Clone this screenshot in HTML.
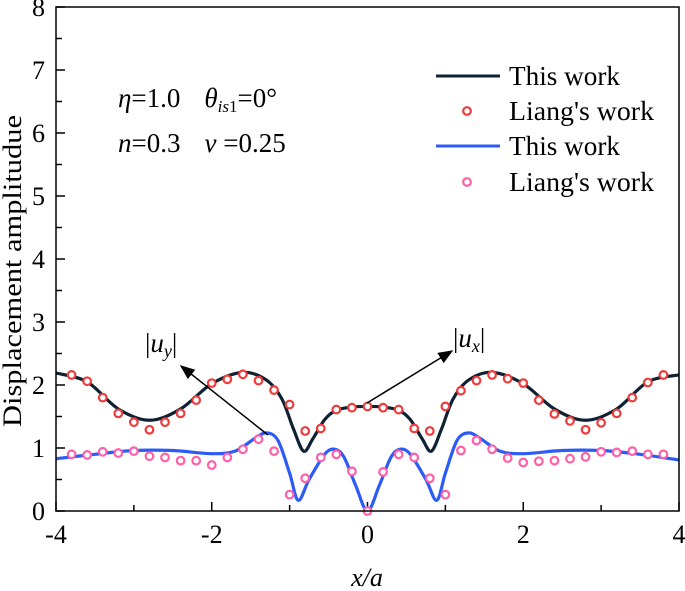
<!DOCTYPE html>
<html><head><meta charset="utf-8"><style>
html,body{margin:0;padding:0;background:#fff}
svg{display:block;font-family:"Liberation Serif",serif}
</style></head><body>
<svg id="chart" width="685" height="591" viewBox="0 0 685 591">
<g id="ticks"></g>
<g id="series"></g>
<rect x="56" y="7" width="623" height="504" fill="none" stroke="#000" stroke-width="1.5"/>
<text x="21" y="271" font-size="26" text-anchor="middle" textLength="312" lengthAdjust="spacingAndGlyphs" transform="rotate(-90 21 271)">Displacement amplitudue</text>
<text x="367" y="586" font-size="26" text-anchor="middle" font-style="italic">x/a</text>
<g font-size="27">
<text x="118" y="107"><tspan font-style="italic">η</tspan>=1.0<tspan dx="24" font-style="italic">θ</tspan><tspan font-style="italic" font-size="17" dy="5">is</tspan><tspan font-size="17">1</tspan><tspan dy="-5">=0°</tspan></text>
<text x="118" y="152"><tspan font-style="italic">n</tspan>=0.3<tspan dx="24" font-style="italic">ν</tspan> =0.25</text>
</g>
<g font-size="27">
<line x1="436" y1="76" x2="500" y2="76" stroke="#0f2233" stroke-width="3"/>
<text x="509" y="85" textLength="111" lengthAdjust="spacingAndGlyphs">This work</text>
<circle cx="467" cy="111" r="3.8" fill="none" stroke="#ee3b3b" stroke-width="2.2"/>
<text x="509" y="120" textLength="145" lengthAdjust="spacingAndGlyphs">Liang's work</text>
<line x1="436" y1="146" x2="500" y2="146" stroke="#2d5cf5" stroke-width="3"/>
<text x="509" y="155" textLength="111" lengthAdjust="spacingAndGlyphs">This work</text>
<circle cx="467" cy="182" r="3.8" fill="none" stroke="#ff5fa8" stroke-width="2.2"/>
<text x="509" y="191" textLength="145" lengthAdjust="spacingAndGlyphs">Liang's work</text>
</g>
<defs><marker id="ah" markerWidth="10" markerHeight="8" refX="9" refY="4" orient="auto"><path d="M0,0 L10,4 L0,8 z" fill="#000"/></marker></defs>
<line x1="268" y1="435" x2="181" y2="366" stroke="#000" stroke-width="1.5" marker-end="url(#ah)"/>
<text x="145" y="352" font-size="27">|<tspan font-style="italic">u</tspan><tspan font-style="italic" font-size="18" dy="5">y</tspan><tspan dy="-5">|</tspan></text>
<line x1="367" y1="403" x2="452" y2="351" stroke="#000" stroke-width="1.5" marker-end="url(#ah)"/>
<text x="453" y="347" font-size="27">|<tspan font-style="italic">u</tspan><tspan font-style="italic" font-size="18" dy="5">x</tspan><tspan dy="-5">|</tspan></text>
</svg>
<script>
const blackX=[-4,-3.6,-3.2,-2.8,-2.4,-2.0,-1.6,-1.3,-1.1,-0.95,-0.82,-0.7,-0.55,-0.4,-0.2,0,0.2,0.4,0.55,0.7,0.82,0.95,1.1,1.3,1.6,2.0,2.4,2.8,3.2,3.6,4];
const blackY=[2.19,2.05,1.62,1.44,1.62,2.02,2.2,2.08,1.78,1.3,0.95,1.15,1.45,1.6,1.65,1.66,1.65,1.6,1.45,1.15,0.95,1.3,1.78,2.08,2.2,2.02,1.62,1.44,1.62,2.05,2.16];
const blueX=[-4,-3.5,-3,-2.5,-2,-1.7,-1.45,-1.3,-1.15,-1.0,-0.89,-0.75,-0.55,-0.42,-0.3,-0.15,0,0.15,0.3,0.42,0.55,0.75,0.89,1.0,1.15,1.3,1.45,1.7,2,2.5,3,3.5,4];
const blueY=[0.83,0.9,0.96,0.96,0.91,0.95,1.15,1.24,1.12,0.6,0.17,0.5,0.9,0.98,0.85,0.4,0,0.4,0.85,0.98,0.9,0.5,0.17,0.6,1.12,1.24,1.15,0.95,0.91,0.96,0.96,0.9,0.81];
const liangX=[-3.8,-3.6,-3.4,-3.2,-3,-2.8,-2.6,-2.4,-2.2,-2,-1.8,-1.6,-1.4,-1.2,-1,-0.8,-0.6,-0.4,-0.2,0,0.2,0.4,0.6,0.8,1,1.2,1.4,1.6,1.8,2,2.2,2.4,2.6,2.8,3,3.2,3.4,3.6,3.8];
const liangRed=[2.16,2.06,1.80,1.55,1.41,1.29,1.41,1.55,1.76,2.03,2.09,2.17,2.07,1.92,1.69,1.27,1.31,1.61,1.64,1.66,1.64,1.61,1.31,1.27,1.66,1.91,2.07,2.16,2.10,2.03,1.76,1.54,1.43,1.29,1.40,1.55,1.80,2.04,2.16];
const liangPink=[0.90,0.89,0.94,0.92,0.95,0.87,0.85,0.80,0.80,0.73,0.85,0.98,1.14,0.95,0.26,0.52,0.85,0.90,0.63,0,0.62,0.90,0.85,0.52,0.26,0.96,1.12,0.98,0.84,0.77,0.79,0.80,0.83,0.86,0.94,0.93,0.95,0.90,0.90];
const xTicks=[-4,-3,-2,-1,0,1,2,3,4];
const xLabels=["-4","","-2","","0","","2","","4"];
const yTicks=[0,0.5,1,1.5,2,2.5,3,3.5,4,4.5,5,5.5,6,6.5,7,7.5,8];
const yLabels=["0","","1","","2","","3","","4","","5","","6","","7","","8"];
const NS="http://www.w3.org/2000/svg";
const sx=v=>56+(v+4)*623/8, sy=v=>511-v*63;
function mk(tag,attrs,parent){const e=document.createElementNS(NS,tag);for(const k in attrs)e.setAttribute(k,attrs[k]);parent.appendChild(e);return e;}
const tg=document.getElementById('ticks'), sg=document.getElementById('series');
xTicks.forEach((t,i)=>{
  const len=xLabels[i]?9:6;
  const l=mk('line',{x1:sx(t),x2:sx(t),y1:511,y2:511-len,stroke:'#000','stroke-width':1.5},tg);
  
  
  if(xLabels[i]){const tx=mk('text',{x:sx(t),y:543,'font-size':26,'text-anchor':'middle'},tg);tx.textContent=xLabels[i];
  
  }
});
yTicks.forEach((t,i)=>{
  const len=yLabels[i]?9:6;
  const l=mk('line',{x1:56,x2:56+len,y1:sy(t),y2:sy(t),stroke:'#000','stroke-width':1.5},tg);
  
  
  if(yLabels[i]){const tx=mk('text',{x:45,y:sy(t)+9,'font-size':26,'text-anchor':'end'},tg);tx.textContent=yLabels[i];
  
  }
});
function smooth(xs,ys){const p=xs.map((x,i)=>[sx(x),sy(ys[i])]);let d='M'+p[0][0]+','+p[0][1];
  for(let i=0;i<p.length-1;i++){const p0=p[Math.max(0,i-1)],p1=p[i],p2=p[i+1],p3=p[Math.min(p.length-1,i+2)];
  d+=' C'+(p1[0]+(p2[0]-p0[0])/6)+','+(p1[1]+(p2[1]-p0[1])/6)+' '+(p2[0]-(p3[0]-p1[0])/6)+','+(p2[1]-(p3[1]-p1[1])/6)+' '+p2[0]+','+p2[1];}
  return d;}
const cp=mk('clipPath',{id:'clip'},sg);mk('rect',{x:56,y:7,width:623,height:504},cp);
const lb=mk('path',{d:smooth(blackX,blackY),fill:'none',stroke:'#0f2233','stroke-width':3.2,'clip-path':'url(#clip)'},sg);


const lu=mk('path',{d:smooth(blueX,blueY),fill:'none',stroke:'#2d5cf5','stroke-width':3.2,'clip-path':'url(#clip)'},sg);


liangX.forEach((x,i)=>{
  const c=mk('circle',{cx:sx(x),cy:sy(liangRed[i]),r:3.8,fill:'#fff',stroke:'#ee3b3b','stroke-width':2.2},sg);
  
  
  const d=mk('circle',{cx:sx(x),cy:sy(liangPink[i]),r:3.8,fill:'#fff',stroke:'#ff5fa8','stroke-width':2.2},sg);
  
  
});
</script>
</body></html>
